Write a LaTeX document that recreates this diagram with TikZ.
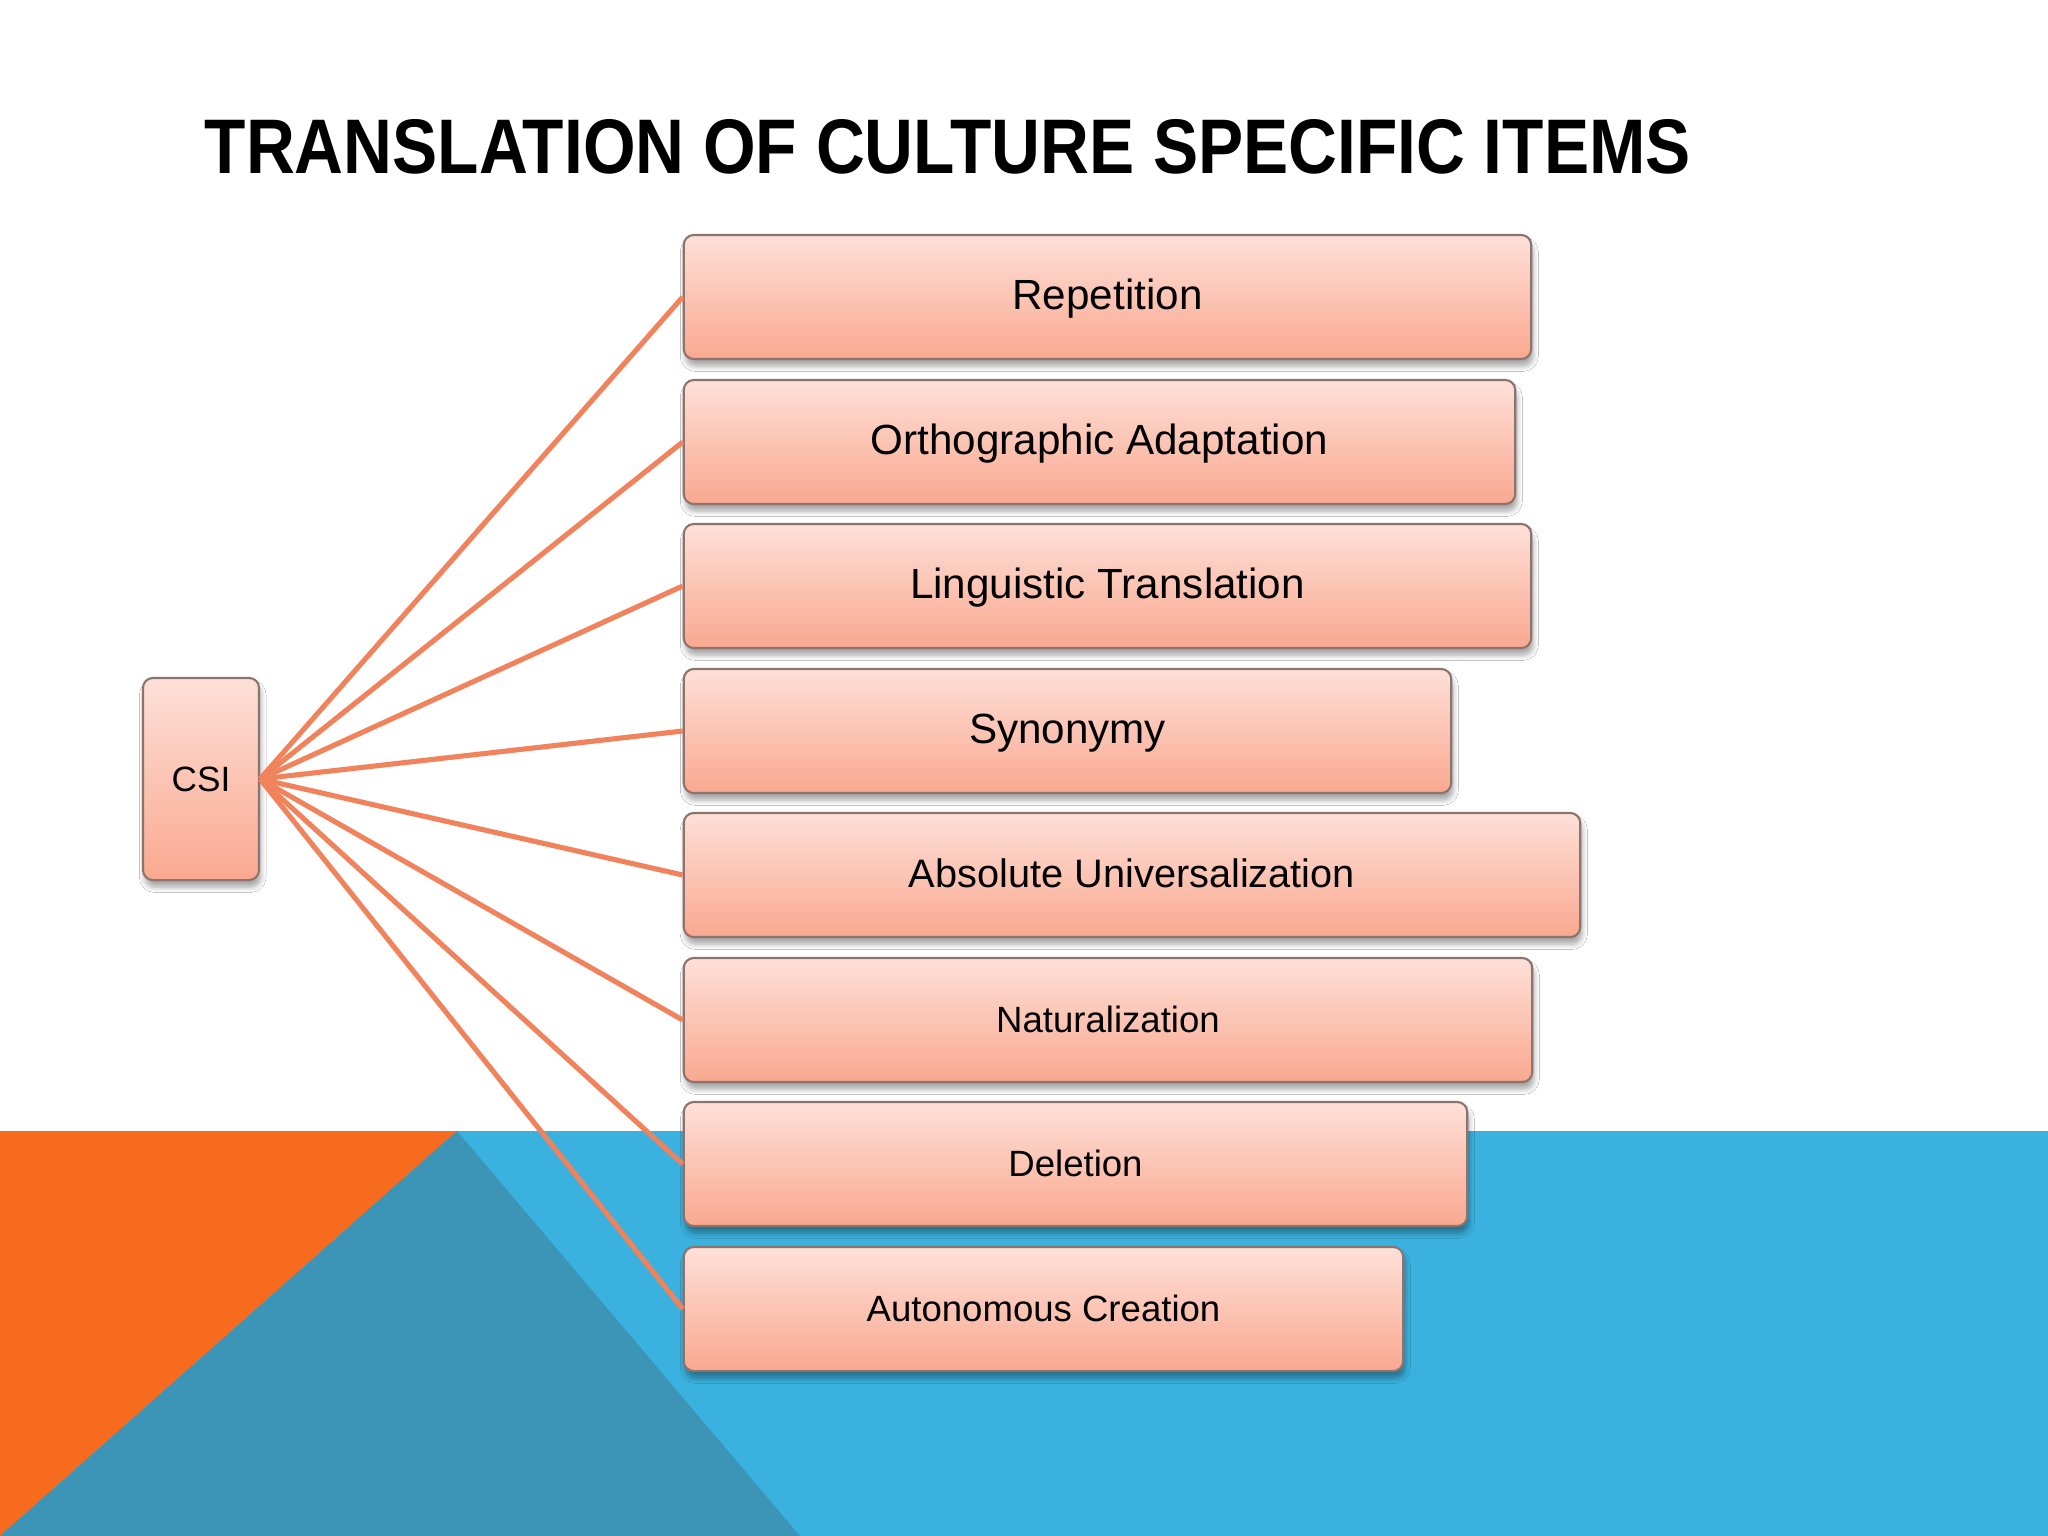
\documentclass[tikz,border=0pt]{standalone}
\usepackage{fontspec}
\setmainfont{Liberation Sans}
\usetikzlibrary{shadows.blur}
\definecolor{bandblue}{RGB}{58,177,222}
\definecolor{tealtri}{RGB}{60,149,183}
\definecolor{orangetri}{RGB}{247,107,30}
\definecolor{linkcol}{RGB}{240,130,92}
\definecolor{boxtop}{RGB}{253,224,216}
\definecolor{boxbot}{RGB}{250,168,143}
\definecolor{boxedge}{RGB}{140,115,110}
\tikzset{
  itembox/.style={draw=boxedge, line width=0.6pt, rounded corners=0.1cm,
    top color=boxtop, bottom color=boxbot, minimum height=1.24cm,
    inner sep=0pt, align=center, text height=0.716em, text depth=0pt,
    blur shadow={shadow xshift=0.5pt, shadow yshift=-2pt, shadow blur steps=6, shadow blur radius=1.5pt, shadow opacity=35}},
  bigtxt/.style={font=\fontsize{12}{14}\selectfont},
  smalltxt/.style={font=\fontsize{10.4}{12}\selectfont},
  link/.style={draw=linkcol, line width=1.45pt}
}
\begin{document}
\begin{tikzpicture}[x=0.01cm, y=-0.01cm]
\useasboundingbox (0,0) rectangle (2048,1536);
% background
\fill[white] (0,0) rectangle (2048,1536);
\fill[bandblue] (0,1131) rectangle (2048,1536);
\fill[orangetri] (0,1131) -- (457,1131) -- (0,1536) -- cycle;
\fill[tealtri] (457,1131) -- (800,1536) -- (0,1536) -- cycle;
% title
\node[anchor=base west, inner sep=0pt] (title) at (204,173)
  {\resizebox{14.85cm}{0.54cm}{\bfseries TRANSLATION OF CULTURE SPECIFIC ITEMS}};
% boxes
\node[itembox, minimum width=1.16cm, minimum height=2.02cm, font=\fontsize{10}{12}\selectfont] (csi) at (201,779) {CSI};
\node[itembox, bigtxt, minimum width=8.47cm] (b1) at (1107.5,297) {Repetition};
\node[itembox, bigtxt, minimum width=8.31cm] (b2) at (1099.5,442) {Orthographic Adaptation};
\node[itembox, bigtxt, minimum width=8.47cm] (b3) at (1107.5,586) {Linguistic Translation};
\node[itembox, bigtxt, minimum width=7.67cm] (b4) at (1067.5,731) {Synonymy};
\node[itembox, font=\fontsize{11.3}{13}\selectfont, minimum width=8.96cm] (b5) at (1132,875) {Absolute Universalization};
\node[itembox, smalltxt, minimum width=8.48cm] (b6) at (1108,1020) {Naturalization};
\node[itembox, smalltxt, minimum width=7.83cm] (b7) at (1075.5,1164) {Deletion};
\node[itembox, smalltxt, minimum width=7.19cm] (b8) at (1043.5,1309) {Autonomous Creation};
% connectors
\foreach \b in {b1,b2,b3,b4,b5,b6,b7,b8}
  \draw[link] (csi.east) -- (\b.west);
\end{tikzpicture}
\end{document}
